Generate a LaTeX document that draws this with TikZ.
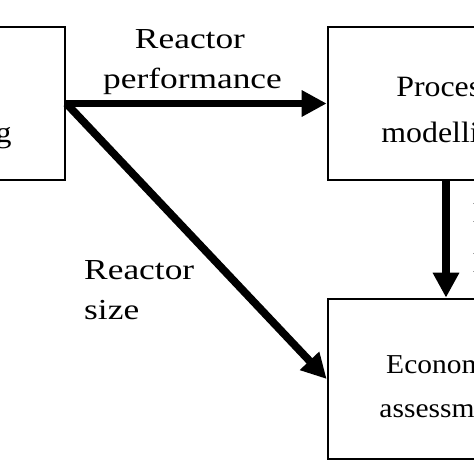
\documentclass[tikz,border=0pt]{standalone}
\usepackage{fontspec}
\setmainfont{Liberation Serif}
\newfontfamily\lblfont[FakeStretch=1.22]{Liberation Serif}
\newfontfamily\boxfont[FakeStretch=1.08]{Liberation Serif}
\usetikzlibrary{arrows.meta}
\begin{document}
\begin{tikzpicture}[x=1pt,y=-1pt,
  box/.style={draw, line width=2.7pt, minimum width=236pt, inner sep=0pt},
  boxtxt/.style={font=\boxfont\fontsize{29.5}{29.5}\selectfont, anchor=base, inner sep=0pt},
  ecotxt/.style={font=\boxfont\fontsize{27.3}{27.3}\selectfont, anchor=base, inner sep=0pt},
  lbl/.style={font=\lblfont\fontsize{29}{29}\selectfont, inner sep=0pt},
  flow/.style={line width=7.8pt, -{Triangle[length=25pt,width=25pt]}}
]
\useasboundingbox (0,0) rectangle (474,474);
\clip (0,0) rectangle (474,474);
\fill[white] (0,0) rectangle (474,474);
\node[box, minimum height=153pt] (rm) at (-53,103.5) {};
\node[box, minimum height=153pt] (pm) at (446,103.5) {};
\node[box, minimum height=160pt] (ea) at (446,379) {};
\node[boxtxt] (rmt1) at (-53,96) {Reactor};
\node[boxtxt] (rmt2) at (-53,142) {modelling};
\node[boxtxt] (pmt1) at (445,96) {Process};
\node[boxtxt] (pmt2) at (446,142) {modelling};
\node[ecotxt] (eat1) at (446,373) {Economic};
\node[ecotxt] (eat2) at (445,417) {assessment};
\node[lbl, anchor=base] (l1) at (190,48) {Reactor};
\node[lbl, anchor=base] (l2) at (192.5,88) {performance};
\node[lbl, anchor=base west] (l3) at (84,279) {Reactor};
\node[lbl, anchor=base west] (l4) at (84,319) {size};
\node[lbl, anchor=base west] (l5) at (472.5,222) {Mass};
\node[lbl, anchor=base west] (l6) at (472.5,272) {Energy};
\draw[flow] (rm.east) -- (pm.west);
\draw[flow] (rm.east) -- (ea.west);
\draw[flow] (pm.south) -- (ea.north);
\end{tikzpicture}
\end{document}
